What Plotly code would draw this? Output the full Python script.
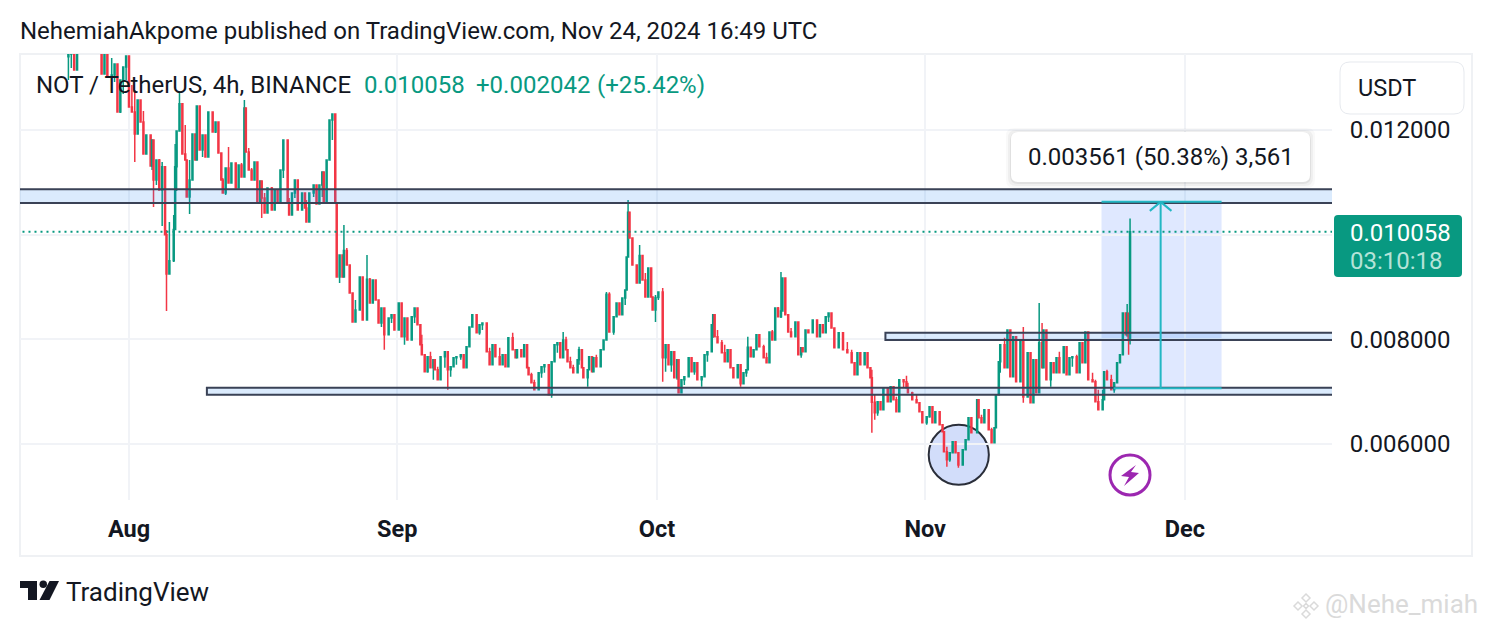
import pandas as pd
import plotly.graph_objects as go

# Chart data: prices are in millionths of USDT, bar_slots count 4h bars from 1 Aug 2024
first_open = 13400
bar_slots = [
 -42,-40,-38,-36,-34,-32,-30,-28,-26,-24,-22,-20,-19,-17,-15,-12,-10,-8,-6,-4,-2,0,
 2,4,6,8,10,12,15,16,17,19, 21,23,25,26,28,31,32,33,35,37,
 39,40,42,44,46,47,49,51,53,55, 58,60,62,64,65,67,69,71,74,76,
 78,80,81,83,85,87,89,91,92,94, 96,99,101,103,105,107,110,111,113,115,
 117,120,122,123,125,128,130,132,134,135, 137,139,141,143,144,146,148,149,151,153,
 155,157,160,162,165,167,169,171,173,175, 177,180,182,184,
 187,189,191,193,196,198,200,202,203,205, 207,209,211,212,214,216,219,221,223,225,
 227,230,232,234,236,238,241,243,245,248, 250,252,254,257,259,261,263,266,268,269,
 272,274,276,277,279,281,284,286,288,291, 293,295,297,299,301,303,304,306,308,311,
 312,314,315,318,319,321,322,324,327,329, 331,333,336,338,340,342,344,345,346,347,
 349,352,354,356,358,360,362,363,365,
 367,370,372,374,376,378,380,381,383,385, 388,390,392,394,397,399,401,404,405,406,
 408,411,413,415,417,419,422,424,426,428, 429,431,433,435,437,440,442,444,446,448,
 450,452,453,455,457,459,462,464,466,467, 469,471,474,477,479,481,483,485,487,489,
 492,495,498,501,503,505,507,510,512,514, 515,517,519,521,523,526,528,530,532,534,
 537,539,540,543,546,548,550,
 553,555,557,559,562,564,565,567,569,571, 573,575,578,580,582,584,588,589,591,593,
 596,598,600,601,603,604,607,609,611,613, 615,618,620,623,625,627,629,631,633,634,
 636,639,641,643,645,648,650,652,654,657, 659,661,663,665,668,670,672,675,676,678,
 681,683,685,687,689,691,692,693,694,
]
bar_highs = [
 13450,13526,13565,13622,13813,13908,13946,14004,13908,13870,13813,13717,13526,13565,13526,13374,13259,13202,12954,13202,13412,13393,
 12858,12763,12572,12477,12362,11904,11866,11808,11541,11427,
 11446,11388,11102,10090,10243,10377,11732,11980,12725,12305,
 12095,11427,11427,11923,11808,12457,12247,11904,11789,12343,
 12286,12152,12133,11560,11083,11274,11675,11369,11102,11331,
 11369,12572,12419,11656,11274,11388,11198,11026,10911,10797,
 10892,10911,10854,10854,11236,11808,11484,10701,10797,11045,
 10816,10797,10739,10663,10797,10949,10758,10949,11198,11007,
 11427,12190,12305,11961,10606,9613,9575,10186,9747,9269,
 8754,8754,9193,8811,9613,9174,9136,9002,8620,8601,
 8238,8410,8468,8430,
 8697,8468,8410,8315,8430,8601,8506,8277,8086,7704,
 7666,7761,7609,7609,7475,7666,7761,7418,7475,7647,
 7666,7704,7647,7857,8238,8468,8277,8277,8315,7990,
 7838,7895,7838,7838,7704,7666,8029,8124,7800,7800,
 7800,7895,7857,7475,7360,7227,7360,7475,7513,7284,
 7570,7895,7933,7895,8143,8048,7761,7666,7513,7609,
 7857,7704,7456,7418,7666,7513,7647,7704,7800,7990,
 8907,8900,8430,8697,8658,8792,8945,9575,10663,10415,
 9861,9365,9804,9288,9269,9365,8983,8811,8849,
 8907,8983,7895,7857,7761,7704,7609,7360,7227,7284,
 7647,7552,7552,7418,7284,7704,7761,8277,8468,8410,
 8181,7990,7895,7800,7800,7456,7513,7265,7360,7418,
 8048,7800,7800,8086,7952,7895,7742,8143,8181,8601,
 8620,9288,9174,8849,8468,8219,8334,7990,7838,7838,
 8181,8181,8372,8219,8277,8277,8430,8506,8430,8124,
 8124,7990,7952,7800,7552,7742,7609,7742,7609,7456,
 7418,6940,6807,6788,7074,6940,7093,6998,6902,7227,
 7189,7303,7170,6998,6940,6788,6616,
 6520,6711,6558,6616,6501,6368,6234,5948,5833,6043,
 6024,5795,5891,6081,6501,6368,6845,6692,6558,6654,
 6425,6310,6310,6940,7570,7895,8029,8181,7857,8048,
 7532,7990,8238,7742,7265,7609,7360,8697,8315,8181,
 7742,7552,7552,7647,7761,7857,7609,7647,7666,7704,
 7933,7742,8143,7570,7360,7227,7036,7036,7380,7418,
 7322,7170,7552,7704,8506,8506,8677,8430,10310,
]
bar_lows = [
 12954,13183,13145,13297,13565,13622,13679,13717,13622,13603,13526,13488,13068,13336,13011,13049,12916,12343,12324,12687,12954,12438,
 12343,11388,11923,12152,11541,11618,11312,11236,10529,10949,
 10854,10167,10000,8544,9250,9480,10109,10835,11980,11541,
 11427,10720,10396,11198,11427,11618,11618,11484,11484,11808,
 11961,11942,11560,11045,10797,10758,10988,10988,10892,10949,
 11102,11427,11579,11236,11045,11179,10625,10720,10320,10415,
 10663,10472,10567,10625,10911,11083,10606,10377,10377,10701,
 10472,10529,10510,10243,10567,10720,10587,10758,10720,10625,
 11045,11427,11808,10606,9193,9078,9193,9384,9422,8888,
 8334,8563,8754,8372,8697,8697,8811,8754,8315,8238,
 7800,8181,8315,8181,
 8315,8048,7895,7990,8219,8315,8277,7895,7704,7380,
 7360,7456,7227,7418,7227,7456,7456,7036,7284,7475,
 7513,7609,7456,7666,7857,8315,8124,8086,8181,7761,
 7513,7704,7666,7513,7570,7475,7857,7800,7647,7647,
 7666,7742,7456,7322,7169,7036,7227,7265,7360,6940,
 6883,7570,7742,7647,7761,7800,7570,7456,7360,7418,
 7513,7456,7265,7093,7418,7380,7513,7475,7513,7800,
 8181,8143,8086,8468,8468,8506,8658,8945,9938,9938,
 9422,9079,9270,9136,8811,8983,8811,8563,8334,
 8754,7190,7380,7513,7380,7265,7227,6979,6979,7130,
 7380,7380,7322,7227,7093,7475,7570,7761,8029,8048,
 7933,7742,7570,7570,7456,7265,7360,7093,7227,7284,
 7513,7666,7647,7895,7857,7647,7552,7761,7990,8334,
 8430,8410,8601,8468,8143,8048,8143,7704,7647,7761,
 7933,8124,8124,8048,8086,8124,8219,8334,8219,7838,
 7895,7800,7742,7552,7322,7552,7513,7570,7456,7265,
 6215,6463,6540,6654,6807,6807,6883,6845,6616,6979,
 7074,7074,6979,6845,6788,6616,6406,
 6368,6501,6406,6520,6368,6234,5852,5566,5661,5891,
 5833,5547,5757,5929,6081,6215,6329,6501,6406,6463,
 6272,6024,6138,6310,6940,7360,7456,7742,7284,7360,
 7189,7552,6788,7130,6788,7093,6979,7360,7456,7456,
 7227,7093,7360,7360,7360,7418,7322,7360,7475,7360,
 7570,7552,7609,7227,7189,6807,6654,6845,7093,7227,
 7036,6979,7284,7552,7742,8086,8048,7704,7900,
]
bar_closes = [
 13450,13526,13145,13622,13813,13622,13946,13717,13622,13870,13526,13488,13068,13565,13011,13049,13259,12343,12954,13202,13412,12438,
 12343,11923,12572,12152,11541,11904,11312,11808,11045,11427,
 10854,11300,10000,9250,9500,10100,11300,11980,12500,11541,
 11427,10720,11045,11923,11427,12457,11618,11904,11484,12343,
 11961,12152,11560,11045,10797,11274,10988,11369,10892,11331,
 11102,12419,11579,11236,11045,11388,10625,11026,10700,10415,
 10892,10472,10854,10625,11236,11808,10606,10377,10797,11045,
 10472,10797,10510,10243,10797,10949,10587,10949,11198,10625,
 11427,12190,12305,10606,9193,9613,9193,9700,9422,8888,
 8334,8563,9193,8372,9150,8697,9136,8754,8315,8601,
 8086,8410,8468,8181,
 8697,8048,8410,7990,8430,8601,8277,7895,7704,7380,
 7666,7456,7609,7418,7227,7666,7761,7420,7475,7647,
 7666,7704,7456,7857,8238,8468,8124,8277,8315,7761,
 7513,7895,7666,7513,7704,7475,8029,7800,7647,7800,
 7666,7895,7456,7322,7169,7036,7360,7475,7513,6940,
 7570,7895,7933,7647,7990,7800,7570,7456,7360,7609,
 7800,7456,7265,7418,7666,7380,7647,7475,7800,7990,
 8860,8143,8430,8697,8468,8792,8945,9575,10430,9938,
 9422,9079,9600,9136,8811,9365,8811,8563,8800,
 8907,7650,7895,7513,7761,7265,7609,6979,7227,7284,
 7647,7380,7552,7227,7284,7704,7761,8277,8468,8048,
 7933,7742,7570,7800,7456,7265,7513,7150,7360,7418,
 7850,7666,7800,8086,7857,7647,7552,8143,7990,8601,
 8430,8540,9174,8468,8143,8048,8334,7704,7838,7761,
 8181,8124,8372,8048,8277,8124,8430,8506,8219,7838,
 8124,7800,7742,7552,7322,7742,7513,7742,7456,7265,
 6800,6600,6807,6654,7074,6807,7093,6845,6616,7227,
 7189,7074,6979,6845,6788,6616,6406,
 6520,6711,6406,6616,6368,6234,5852,5700,5833,6043,
 5833,5600,5891,6081,6501,6215,6845,6501,6406,6654,
 6272,6024,6310,6940,7570,7895,7456,8181,7284,8048,
 7189,7990,6900,7742,6788,7609,6979,7933,7456,8181,
 7227,7552,7360,7647,7360,7857,7322,7647,7666,7360,
 7933,7552,8143,7227,7189,6807,6654,6845,7380,7227,
 7036,7170,7552,7704,8506,8086,8500,8016,10058,
]
month_ticks = ["2024-08-01", "2024-09-01", "2024-10-01", "2024-11-01", "2024-12-01"]
month_labels = ["Aug", "Sep", "Oct", "Nov", "Dec"]
price_ticks = [0.006, 0.008, 0.010, 0.012]
price_labels = ["0.006000", "0.008000", "", "0.012000"]

UP, DOWN = "#089981", "#F23645"
INK = "#131722"
GRID = "#F1F3F7"
ZONE_LINE = "#3A4256"
TEAL = "#22B7C4"
PURPLE = "#9C27B0"
FONT = "Roboto"

# Pane geometry of the page
W, H = 1492, 626
L, R, T, B = 20, 1332, 54, 500
px = lambda x: (x - L) / (R - L)
py = lambda y: (B - y) / (B - T)

aug1 = pd.Timestamp("2024-08-01")
day = lambda d: aug1 + pd.Timedelta(days=d)

bar_times = [aug1 + pd.Timedelta(hours=4 * s) for s in bar_slots]
closes = [c / 1e6 for c in bar_closes]
opens = [first_open / 1e6] + closes[:-1]
highs = [max(h / 1e6, o, c) for h, o, c in zip(bar_highs, opens, closes)]
lows = [min(l / 1e6, o, c) for l, o, c in zip(bar_lows, opens, closes)]

fig = go.Figure(go.Candlestick(
    x=bar_times, open=opens, high=highs, low=lows, close=closes,
    increasing=dict(line=dict(color=UP, width=1.5), fillcolor=UP),
    decreasing=dict(line=dict(color=DOWN, width=1.5), fillcolor=DOWN),
    whiskerwidth=0, showlegend=False, hoverinfo="skip",
))

shapes, annotations = [], []


def rrect_path(x0, y0, x1, y1, r):
    p = lambda x, y: f"{px(x):.6f},{py(y):.6f}"
    return (f"M {p(x0 + r, y0)} L {p(x1 - r, y0)} Q {p(x1, y0)} {p(x1, y0 + r)} "
            f"L {p(x1, y1 - r)} Q {p(x1, y1)} {p(x1 - r, y1)} L {p(x0 + r, y1)} "
            f"Q {p(x0, y1)} {p(x0, y1 - r)} L {p(x0, y0 + r)} Q {p(x0, y0)} {p(x0 + r, y0)} Z")


def poly_path(points):
    return "M " + " L ".join(f"{px(x):.6f},{py(y):.6f}" for x, y in points) + " Z"


def page_path(path, fill=None, line=None, width=0):
    shapes.append(dict(type="path", xref="paper", yref="paper", path=path, layer="above",
                       fillcolor=fill or "rgba(0,0,0,0)",
                       line=dict(color=line or "rgba(0,0,0,0)", width=width)))


def text(x, y, s, size=24, color=INK, anchor="left", weight=None):
    font = dict(family=FONT, size=size, color=color)
    if weight:
        font["weight"] = weight
    annotations.append(dict(xref="paper", yref="paper", x=px(x - 1), y=py(y), text=s, showarrow=False,
                            xanchor=anchor, yanchor="middle", font=font, borderpad=0))


def data_rect(x0, x1, y0, y1, fill, line=None, width=0, layer="above"):
    shapes.append(dict(type="rect", xref="x", yref="y", x0=x0, x1=x1, y0=y0, y1=y1, layer=layer,
                       fillcolor=fill, line=dict(color=line or "rgba(0,0,0,0)", width=width)))


def data_line(x0, x1, y0, y1, color, width, dash="solid"):
    shapes.append(dict(type="line", xref="x", yref="y", x0=x0, x1=x1, y0=y0, y1=y1, layer="above",
                       line=dict(color=color, width=width, dash=dash)))


ZONE_FILL = "rgba(33,130,243,0.16)"
range_end = day(145)

# Horizontal zones
data_rect(day(-20), range_end, 0.010606, 0.010870, ZONE_FILL, ZONE_LINE, 2)
data_rect(day(87.4), range_end, 0.007990, 0.008124, ZONE_FILL, ZONE_LINE, 2)
data_rect(day(9.0), range_end, 0.006940, 0.007074, ZONE_FILL, ZONE_LINE, 2)

# Last price line
data_line(day(-13), day(139), 0.010058, 0.010058, UP, 2, "2px,4px")

# Circle around the November low
shapes.append(dict(type="circle", xref="x", yref="y", layer="below",
                   x0=day(92.4), x1=day(99.35), y0=0.005222, y1=0.006368,
                   fillcolor="#D2DDFA", line=dict(color="#2A2E39", width=2)))

# Measure tool
meas_low, meas_high = 0.007066, 0.010627
data_rect(day(112.37), day(126.24), meas_low, meas_high, "rgba(41,98,255,0.15)", layer="below")
data_line(day(112.37), day(126.24), meas_high, meas_high, TEAL, 2)
data_line(day(113.76), day(126.24), meas_low, meas_low, TEAL, 2)
data_line(day(119.2), day(119.2), meas_low, meas_high, TEAL, 2)
data_line(day(119.2), day(117.95), meas_high, 0.010455, TEAL, 2)
data_line(day(119.2), day(120.45), meas_high, 0.010455, TEAL, 2)

# Outer frame
shapes.append(dict(type="rect", xref="paper", yref="paper", x0=px(20), x1=px(1472), y0=py(54), y1=py(556),
                   layer="below", line=dict(color="#EFF1F4", width=2), fillcolor="rgba(0,0,0,0)"))

# Measure tooltip with soft shadow
for grow, alpha in [(5, 0.025), (3, 0.04), (1, 0.06)]:
    page_path(rrect_path(1011 - grow, 132 - grow + 1, 1310 + grow, 182 + grow + 1, 8), fill=f"rgba(0,0,0,{alpha})")
page_path(rrect_path(1011, 132, 1310, 182, 7), fill="#FFFFFF")
text(1028, 157, "0.003561 (50.38%) 3,561", size=24, color=INK)

# Currency button
page_path(rrect_path(1340, 62, 1464, 114, 10), fill="#FFFFFF", line="#E6E9EE", width=1)
text(1358, 88, "USDT", size=23.5, color=INK)

# Last price tag
page_path(rrect_path(1334, 215, 1462, 277, 4), fill=UP)
text(1350, 233, "0.010058", size=24, color="#FFFFFF")
text(1350, 261, "03:10:18", size=24, color="#B5E3D8")

# Lightning marker
shapes.append(dict(type="circle", xref="paper", yref="paper", x0=px(1110), x1=px(1150), y0=py(495), y1=py(455),
                   layer="above", fillcolor="rgba(255,255,255,0)", line=dict(color=PURPLE, width=3)))
page_path(poly_path([(1136, 465), (1121, 476), (1129, 477), (1124, 486), (1139, 473), (1131, 472)]), fill=PURPLE)

# TradingView logo
page_path(poly_path([(20, 581), (37, 581), (37, 600), (28, 600), (28, 588), (20, 588)]), fill=INK)
shapes.append(dict(type="circle", xref="paper", yref="paper", x0=px(39.5), x1=px(47), y0=py(588), y1=py(580.5),
                   layer="above", fillcolor=INK, line=dict(color=INK, width=0)))
page_path(poly_path([(49.5, 581), (59, 581), (49.5, 600), (39.5, 600)]), fill=INK)

# Watermark diamonds
WM = "#DADADA"
for cx, cy, r in [(1306, 598, 4), (1298, 606, 4), (1314, 606, 4), (1306, 614, 4), (1306, 606, 2.5)]:
    page_path(poly_path([(cx, cy - r), (cx + r, cy), (cx, cy + r), (cx - r, cy)]), line=WM, width=1.5)

# Texts
text(20, 31, "NehemiahAkpome published on TradingView.com, Nov 24, 2024 16:49 UTC", size=24)
text(36, 85, "NOT / TetherUS, 4h, BINANCE", size=24)
text(364, 85, "0.010058", size=24, color=UP)
text(476, 85, "+0.002042", size=24, color=UP)
text(597, 85, "(+25.42%)", size=24, color=UP)
text(66, 592, "TradingView", size=26)
text(1325, 604, "@Nehe_miah", size=26, color=WM)

fig.update_layout(
    width=W, height=H, autosize=False,
    margin=dict(l=L, r=W - R, t=T, b=H - B, pad=0),
    paper_bgcolor="#FFFFFF", plot_bgcolor="#FFFFFF",
    font=dict(family=FONT, color=INK),
    showlegend=False, shapes=shapes, annotations=annotations,
    boxgap=0,
    xaxis=dict(
        type="date", range=[day(-12.594), day(139)], rangeslider=dict(visible=False),
        tickmode="array", tickvals=month_ticks, ticktext=month_labels,
        tickfont=dict(family=FONT, size=23.5, color=INK, weight=700),
        showgrid=True, gridcolor=GRID, gridwidth=2, zeroline=False, showline=False,
        ticks="outside", ticklen=8, tickcolor="rgba(0,0,0,0)",
    ),
    yaxis=dict(
        side="right", range=[0.004931, 0.013452],
        tickmode="array", tickvals=price_ticks, ticktext=price_labels,
        tickfont=dict(family=FONT, size=24, color=INK),
        showgrid=True, gridcolor=GRID, gridwidth=2, zeroline=False, showline=False,
        ticks="outside", ticklen=12, tickcolor="rgba(0,0,0,0)",
    ),
)

fig.write_html("out.html", config=dict(displayModeBar=False),
               post_script="document.body.style.margin='0';")
